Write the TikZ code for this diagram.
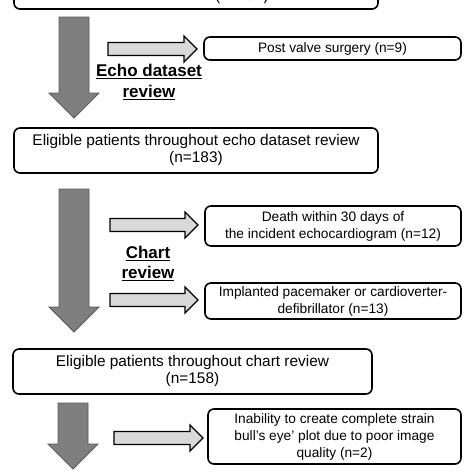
\documentclass[tikz,border=0pt]{standalone}
\usepackage{fontspec}
\setmainfont{Liberation Sans}
\usepackage{xcolor}
\usepackage{tikz}
\definecolor{flowgray}{HTML}{7F7F7F}
\definecolor{flowedge}{HTML}{5A5A5A}
\definecolor{sidegray}{HTML}{D9D9D9}

\begin{document}
\begin{tikzpicture}[
    x=1pt, y=-1pt,
    stage/.style={rectangle, rounded corners=6pt, draw=black, line width=1.6pt, fill=white, align=center, inner sep=0pt, font=\fontsize{15.4}{17}\selectfont},
    excl/.style={rectangle, rounded corners=6pt, draw=black, line width=1.6pt, fill=white, align=center, inner sep=0pt, font=\fontsize{13.7}{17}\selectfont},
    phase/.style={align=center, font=\fontsize{17}{20.5}\selectfont\bfseries},
    flow/.style={fill=flowgray, draw=flowedge, line width=0.8pt},
    side/.style={fill=sidegray, draw=black, line width=1.2pt},
    pics/bigdown/.style={code={
        \draw[flow] (-15,0) -- (15,0) -- (15,#1-25) -- (25,#1-25) -- (0,#1) -- (-25,#1-25) -- (-15,#1-25) -- cycle;
    }},
    pics/sideright/.style={code={
        \draw[side] (0,-6.5) -- (#1-13,-6.5) -- (#1-13,-13) -- (#1,0) -- (#1-13,13) -- (#1-13,6.5) -- (0,6.5) -- cycle;
    }}
]
\useasboundingbox (0,0) rectangle (474,474);

% Stages
\node[stage, minimum width=364pt, minimum height=44pt] (s0) at (196,-13) {};
\node[font=\fontsize{15.4}{17}\selectfont, anchor=base] (s0n) at (242,0.5) {(n=192)};
\node[stage, minimum width=364pt, minimum height=45pt] (s1) at (196,150.5) {Eligible patients throughout echo dataset review\\(n=183)};
\node[stage, minimum width=359pt, minimum height=45pt] (s2) at (192.5,371.5) {Eligible patients throughout chart review\\(n=158)};

% Exclusions
\node[excl, minimum width=257pt, minimum height=23pt] (e1) at (332.5,48.5) {Post valve surgery (n=9)};
\node[excl, minimum width=256pt, minimum height=40pt] (e2) at (333,226) {Death within 30 days of\\the incident echocardiogram (n=12)};
\node[excl, minimum width=256pt, minimum height=36pt] (e3) at (333,301) {Implanted pacemaker or cardioverter-\\defibrillator (n=13)};
\node[excl, minimum width=253pt, minimum height=55pt] (e4) at (334.5,436.5) {Inability to create complete strain\\bull's eye' plot due to poor image\\quality (n=2)};

% Review labels
\node[phase] (p1) at (149,82) {\underline{Echo dataset}\\\underline{review}};
\node[phase] (p2) at (148,263.5) {\underline{Chart}\\\underline{review}};

% Main flow
\pic (a1) at (74,17) {bigdown=101};
\pic (a2) at (74,189) {bigdown=143};
\pic (a3) at (73,403) {bigdown=66};

% Side arrows
\pic (b1) at (108,49) {sideright=89};
\pic (b2) at (110,225) {sideright=88};
\pic (b3) at (110,300) {sideright=88};
\pic (b4) at (114,438) {sideright=89};

\end{tikzpicture}
\end{document}
